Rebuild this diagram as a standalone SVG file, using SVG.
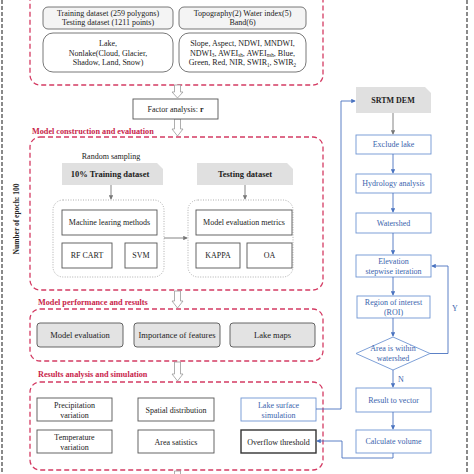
<svg xmlns="http://www.w3.org/2000/svg" width="474" height="474" viewBox="0 0 474 474">
<style>
text{font-family:'Liberation Serif','Times New Roman',serif;font-size:8px;fill:#222;text-anchor:middle}
.t{font-weight:bold;fill:#c8244a;font-size:8.2px;text-anchor:start}
.b{font-weight:bold}
.bl{fill:#3b64ad}
.sec{fill:none;stroke:#d43b63;stroke-width:1.3;stroke-dasharray:5 3}
.rb{fill:#f4f4f4;stroke:#555;stroke-width:0.8}
.rw{fill:#fff;stroke:#555;stroke-width:0.8}
.gb{fill:#e3e3e3;stroke:#555;stroke-width:0.9}
.sq{fill:#fff;stroke:#555;stroke-width:0.9}
.thick{fill:#fff;stroke:#333;stroke-width:1.4}
.dot{fill:none;stroke:#999;stroke-width:0.8;stroke-dasharray:1 1.5}
.fold{fill:#e0e0e0;stroke:none}
.blbox{fill:#fff;stroke:#6f95d3;stroke-width:0.9}
.ha{fill:#fff;stroke:#999;stroke-width:0.8}
.edge{fill:none;stroke:#8a8a8a;stroke-width:2;stroke-dasharray:4 2}
.gl{fill:none;stroke:#777;stroke-width:0.9}
.bln{fill:none;stroke:#4a73c0;stroke-width:0.9}
.sub{font-size:5.2px}
</style>
<defs>
<marker id="ag" viewBox="0 0 6 6" refX="5" refY="3" markerWidth="5" markerHeight="5" orient="auto"><path d="M0,0 L6,3 L0,6 Z" fill="#777"/></marker>
<marker id="ab" viewBox="0 0 6 6" refX="5" refY="3" markerWidth="5" markerHeight="5" orient="auto"><path d="M0,0 L6,3 L0,6 Z" fill="#4a73c0"/></marker>
</defs>
<rect width="474" height="474" fill="#fff"/>
<line class="edge" x1="2" y1="0" x2="2" y2="474"/>
<line class="edge" x1="467" y1="0" x2="467" y2="474"/>

<!-- sections -->
<g id="sec1"><rect class="sec" x="30" y="-20" width="293" height="105" rx="10"/></g>
<g id="sec2"><text class="t" x="32" y="134">Model construction and evaluation</text><rect class="sec" x="30" y="137" width="293" height="153" rx="10"/></g>
<g id="sec3"><text class="t" x="38" y="305">Model performance and results</text><rect class="sec" x="30" y="309" width="293" height="52" rx="10"/></g>
<g id="sec4"><text class="t" x="38" y="377">Results analysis and simulation</text><rect class="sec" x="30" y="382" width="293" height="88" rx="10"/></g>

<text class="b" transform="translate(19,219) rotate(-90)" style="font-size:7.5px">Number of epoch: 100</text>

<!-- hollow arrows -->
<g id="harrows">
<path class="ha" d="M174.5,85 V92 H172 L177.5,98 L183,92 H180.5 V85 Z"/>
<path class="ha" d="M174.5,119 V129 H172 L177.5,136 L183,129 H180.5 V119 Z"/>
<path class="ha" d="M174.5,291 V301 H172 L177.5,308 L183,301 H180.5 V291 Z"/>
<path class="ha" d="M174.5,362 V374 H172 L177.5,381 L183,374 H180.5 V362 Z"/>
<path class="ha" d="M174.5,471 V478 H180.5 V471 Z"/>
</g>

<!-- top section nodes -->
<g id="n-datasets"><rect class="rb" x="43" y="7" width="130" height="22" rx="5"/><text x="108" y="16">Training dataset  (259  polygons)</text><text x="108" y="25">Testing dataset (1211 points)</text></g>
<g id="n-factors"><rect class="rb" x="179" y="7" width="127" height="22" rx="5"/><text x="242.5" y="16">Topography(2)   Water index(5)</text><text x="242.5" y="25">Band(6)</text></g>
<g id="n-classes"><rect class="rw" x="43" y="33" width="130" height="39" rx="10"/><text x="108" y="45.5">Lake,</text><text x="108" y="55.5">Nonlake(Cloud, Glacier,</text><text x="108" y="65">Shadow, Land, Snow)</text></g>
<g id="n-features"><rect class="rw" x="179" y="33" width="127" height="39" rx="10"/><text x="242.5" y="45.5">Slope, Aspect, NDWI, MNDWI,</text><text x="242.5" y="55.5">NDWI<tspan class="sub" dy="1.5">3</tspan><tspan dy="-1.5">, AWEI</tspan><tspan class="sub" dy="1.5">sh</tspan><tspan dy="-1.5">, AWEI</tspan><tspan class="sub" dy="1.5">nsh</tspan><tspan dy="-1.5">, Blue,</tspan></text><text x="242.5" y="65">Green, Red, NIR, SWIR<tspan class="sub" dy="1.5">1</tspan><tspan dy="-1.5">, SWIR</tspan><tspan class="sub" dy="1.5">2</tspan></text></g>
<g id="n-factor-analysis"><rect class="sq" x="133" y="99" width="85" height="20"/><text x="175.5" y="112">Factor analysis: <tspan class="b">r</tspan></text></g>

<!-- model construction -->
<text x="111" y="158.5" fill="#333">Random sampling</text>
<g id="n-train"><path class="fold" d="M62,163 H157 L163,169 V185 H62 Z"/><text class="b" x="110" y="177" style="font-size:8.5px">10% Training dataset</text></g>
<g id="n-test"><path class="fold" d="M197,163 H287 L293,169 V185 H197 Z"/><text class="b" x="245" y="177" style="font-size:8.5px">Testing dataset</text></g>
<g id="g-ml"><rect class="dot" x="53" y="200" width="111" height="77" rx="10"/></g>
<g id="g-eval"><rect class="dot" x="188" y="200" width="105" height="77" rx="10"/></g>
<g id="n-ml"><rect class="sq" x="62" y="210" width="95" height="25"/><text x="109.5" y="225">Machine learing methods</text></g>
<g id="n-rf"><rect class="sq" x="62" y="243" width="50" height="25"/><text x="87" y="258">RF CART</text></g>
<g id="n-svm"><rect class="sq" x="125" y="243" width="32" height="25"/><text x="141" y="258">SVM</text></g>
<g id="n-metrics"><rect class="sq" x="196" y="210" width="96" height="25"/><text x="244" y="225">Model evaluation metrics</text></g>
<g id="n-kappa"><rect class="sq" x="196" y="243" width="44" height="25"/><text x="218" y="258">KAPPA</text></g>
<g id="n-oa"><rect class="sq" x="247" y="243" width="45" height="25"/><text x="269.5" y="258">OA</text></g>

<!-- performance -->
<g id="n-modeleval"><rect class="gb" x="37" y="323" width="86" height="24" rx="3"/><text x="80" y="338" style="font-size:8.5px">Model evaluation</text></g>
<g id="n-importance"><rect class="gb" x="134" y="323" width="86" height="24" rx="3"/><text x="177" y="338" style="font-size:8.5px">Importance of features</text></g>
<g id="n-lakemaps"><rect class="gb" x="230" y="323" width="85" height="24" rx="3"/><text x="272.5" y="338" style="font-size:8.5px">Lake maps</text></g>

<!-- results analysis -->
<g id="n-precip"><rect class="sq" x="37" y="398" width="75" height="23"/><text x="74.5" y="407.5">Precipitation</text><text x="74.5" y="417.5">variation</text></g>
<g id="n-spatial"><rect class="sq" x="138" y="398" width="76" height="23"/><text x="176" y="412.5">Spatial distribution</text></g>
<g id="n-lakesurf"><rect class="blbox" x="241" y="398" width="75" height="23"/><text class="bl" x="278.5" y="407.5">Lake surface</text><text class="bl" x="278.5" y="417.5">simulation</text></g>
<g id="n-temp"><rect class="sq" x="37" y="430" width="75" height="23"/><text x="74.5" y="439.5">Temperature</text><text x="74.5" y="449.5">variation</text></g>
<g id="n-area"><rect class="sq" x="138" y="430" width="76" height="23"/><text x="176" y="444.5">Area satistics</text></g>
<g id="n-overflow"><rect class="thick" x="241" y="430" width="75" height="23"/><text x="278.5" y="444.5">Overflow threshold</text></g>

<!-- right flowchart -->
<g id="n-srtm"><path class="fold" d="M356,87 H425 L431,93 V113 H356 Z"/><text class="b" x="393" y="103">SRTM DEM</text></g>
<g id="n-exclude"><rect class="blbox" x="356" y="135" width="75" height="19"/><text class="bl" x="393.5" y="147">Exclude lake</text></g>
<g id="n-hydro"><rect class="blbox" x="356" y="174" width="75" height="19"/><text class="bl" x="393.5" y="186">Hydrology analysis</text></g>
<g id="n-watershed"><rect class="blbox" x="356" y="213" width="75" height="20"/><text class="bl" x="393.5" y="226">Watershed</text></g>
<g id="n-elev"><rect class="blbox" x="356" y="255" width="75" height="22"/><text class="bl" x="393.5" y="264">Elevation</text><text class="bl" x="393.5" y="273.5">stepwise iteration</text></g>
<g id="n-roi"><rect class="blbox" x="357" y="296" width="73" height="22"/><text class="bl" x="393.5" y="305">Region of interest</text><text class="bl" x="393.5" y="314.5">(ROI)</text></g>
<g id="n-decision"><path class="blbox" d="M393,337 L430,353.5 L393,370 L356,353.5 Z"/><text class="bl" x="393" y="351">Area is within</text><text class="bl" x="393" y="361">watershed</text></g>
<g id="n-vector"><rect class="blbox" x="356" y="388" width="75" height="24"/><text class="bl" x="393.5" y="402.5">Result to vector</text></g>
<g id="n-volume"><rect class="blbox" x="356" y="430" width="75" height="23"/><text class="bl" x="393.5" y="444">Calculate volume</text></g>

<!-- connectors -->
<g id="connectors">
<line class="gl" x1="111" y1="185" x2="111" y2="199" marker-end="url(#ag)"/>
<line class="gl" x1="245" y1="185" x2="245" y2="199" marker-end="url(#ag)"/>
<line class="gl" x1="164" y1="238" x2="187" y2="238" marker-end="url(#ag)"/>
<line class="gl" x1="393" y1="113" x2="393" y2="134" marker-end="url(#ag)"/>
<line class="bln" x1="393" y1="154" x2="393" y2="173" marker-end="url(#ab)"/>
<line class="bln" x1="393" y1="193" x2="393" y2="212" marker-end="url(#ab)"/>
<line class="bln" x1="393" y1="233" x2="393" y2="254" marker-end="url(#ab)"/>
<line class="bln" x1="393" y1="277" x2="393" y2="295" marker-end="url(#ab)"/>
<line class="bln" x1="393" y1="318" x2="393" y2="336" marker-end="url(#ab)"/>
<line class="bln" x1="393" y1="370" x2="393" y2="387" marker-end="url(#ab)"/>
<line class="bln" x1="393" y1="412" x2="393" y2="429" marker-end="url(#ab)"/>
<path class="bln" d="M430,353.5 H448 V266 H432" marker-end="url(#ab)"/>
<path class="bln" d="M393,453 V458 H342 V441 H317" marker-end="url(#ab)"/>
<path class="bln" d="M316,409 H341 V101 H355" marker-end="url(#ab)"/>
<text class="bl" x="401" y="382">N</text>
<text class="bl" x="455" y="311">Y</text>
</g>
</svg>
